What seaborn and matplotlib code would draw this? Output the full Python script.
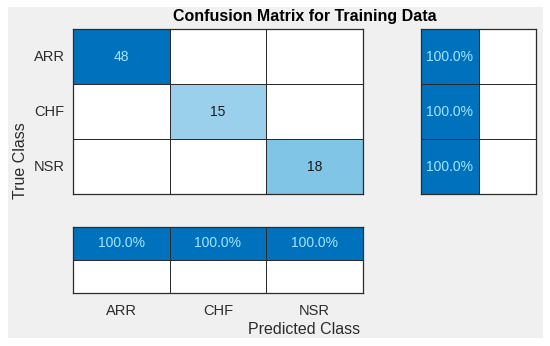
import numpy as np
import matplotlib
matplotlib.use("Agg")
import matplotlib.pyplot as plt
from matplotlib.colors import LinearSegmentedColormap
from matplotlib.patches import Rectangle
import seaborn as sns

# ---- data ----
classes = ["ARR", "CHF", "NSR"]
counts = [[48, 0, 0],
          [0, 15, 0],
          [0, 0, 18]]
row_correct = [100.0, 100.0, 100.0]     # true-class recall %
row_wrong = [0.0, 0.0, 0.0]
col_correct = [100.0, 100.0, 100.0]     # predicted-class precision %
col_wrong = [0.0, 0.0, 0.0]
title = "Confusion Matrix for Training Data"
xlabel = "Predicted Class"
ylabel = "True Class"

sns.set_theme(style="white")
plt.rcParams["font.family"] = ["Liberation Sans", "DejaVu Sans"]

W, H = 550, 346
fig = plt.figure(figsize=(W / 100, H / 100), dpi=100)
fig.patch.set_facecolor("white")
fig.patches.append(Rectangle((7.7 / W, 8 / H), (543 - 7.7) / W, (339 - 8) / H,
                             transform=fig.transFigure, facecolor="#f0f0f0",
                             edgecolor="none", zorder=-10))

DARK = "#0072bd"
LIGHT_TXT = "#a3e6ff"
DARK_TXT = "#1a1a1a"
EDGE = "#2b2b2b"
LW = 0.6

counts_arr = np.array(counts, dtype=float)
vmax = counts_arr.max()
diag_cmap = LinearSegmentedColormap.from_list(
    "cm", [(0.0, "#ffffff"), (0.25, "#b0daef"), (15 / vmax, "#9bd0ec"),
           (18 / vmax, "#80c4e6"), (1.0, DARK)])
pct_cmap = LinearSegmentedColormap.from_list("pc", ["#ffffff", DARK])


def px_axes(x0, x1, y0, y1):
    ax = fig.add_axes([x0 / W, 1 - y1 / H, (x1 - x0) / W, (y1 - y0) / H])
    ax.set_zorder(1)
    return ax


def frame(ax):
    for s in ax.spines.values():
        s.set_visible(True)
        s.set_color(EDGE)
        s.set_linewidth(0.9)


def annot_strings(arr, pct):
    out = []
    for row in arr:
        out.append([("" if v == 0 else (f"{v:.1f}%" if pct else f"{int(v)}")) for v in row])
    return np.array(out)


def recolor(ax, arr, threshold):
    flat = [v for row in arr for v in row if v != 0]
    texts = [t for t in ax.texts if t.get_text() != ""]
    for t, v in zip(texts, flat):
        t.set_color(LIGHT_TXT if v >= threshold else DARK_TXT)


# main matrix
ax_m = px_axes(73, 363, 29.3, 194.3)
sns.heatmap(counts_arr, ax=ax_m, cmap=diag_cmap, vmin=0, vmax=vmax, cbar=False,
            annot=annot_strings(counts_arr, False), fmt="",
            annot_kws={"fontsize": 10}, linewidths=LW, linecolor=EDGE,
            xticklabels=False, yticklabels=classes)
recolor(ax_m, counts, 30)
frame(ax_m)
ax_m.tick_params(axis="y", length=0, pad=6, labelsize=10.5, colors="#2b2b2b")
ax_m.set_yticklabels(classes, rotation=0)
ax_m.set_xlabel("")
ax_m.set_ylabel("")

# row summary
row_arr = np.array([row_correct, row_wrong]).T
ax_r = px_axes(421, 536, 29.3, 194.3)
sns.heatmap(row_arr, ax=ax_r, cmap=pct_cmap, vmin=0, vmax=100, cbar=False,
            annot=annot_strings(row_arr, True), fmt="",
            annot_kws={"fontsize": 10}, linewidths=LW, linecolor=EDGE,
            xticklabels=False, yticklabels=False)
recolor(ax_r, row_arr, 50)
frame(ax_r)

# column summary
col_arr = np.array([col_correct, col_wrong])
ax_c = px_axes(73, 363, 227, 292.7)
sns.heatmap(col_arr, ax=ax_c, cmap=pct_cmap, vmin=0, vmax=100, cbar=False,
            annot=annot_strings(col_arr, True), fmt="",
            annot_kws={"fontsize": 10}, linewidths=LW, linecolor=EDGE,
            xticklabels=classes, yticklabels=False)
recolor(ax_c, col_arr, 50)
frame(ax_c)
ax_c.tick_params(axis="x", length=0, pad=8, labelsize=10.5, colors="#2b2b2b")

fig.text(304.5 / W, 1 - 16 / H, title, ha="center", va="center",
         fontsize=11.5, fontweight="bold", color="#000000")
fig.text(304.5 / W, 1 - 329 / H, xlabel, ha="center", va="center",
         fontsize=11.5, color="#2b2b2b")
fig.text(21 / W, 1 - 161 / H, ylabel, ha="center", va="center", rotation=90,
         fontsize=11.5, color="#2b2b2b")

fig.savefig("out.png", dpi=100)
